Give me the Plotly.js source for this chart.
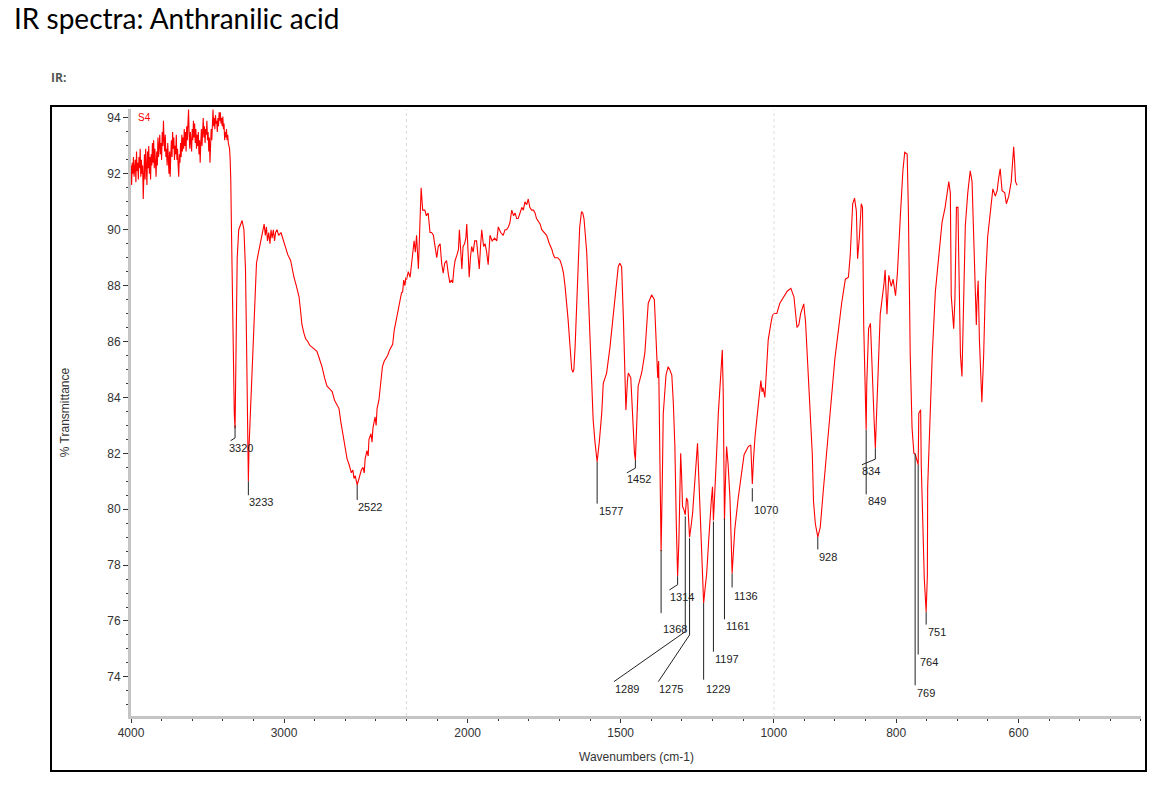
<!DOCTYPE html>
<html><head><meta charset="utf-8">
<script src="https://cdn.plot.ly/plotly-3.0.1.min.js"></script>
<style>html,body{margin:0;padding:0;background:#fff;}#chart{width:1154px;height:810px;}</style>
</head><body><div id="chart"></div>
<script>
// ---- spectrum data (wavenumber in cm-1, % transmittance) ----
const wavenumber = [
4000,3996,3992,3988,3984,3980,3976,3972,3968,3964,3960,3956,3952,3948,3944,3940,3936,3932,3928,3924,
3920,3916,3912,3908,3904,3900,3896,3892,3888,3884,3880,3876,3872,3868,3864,3860,3856,3852,3848,3844,
3840,3836,3832,3828,3824,3820,3816,3812,3808,3804,3800,3796,3792,3788,3784,3780,3776,3772,3768,3764,
3760,3756,3752,3748,3744,3740,3736,3732,3728,3724,3720,3716,3712,3708,3704,3700,3696,3692,3688,3684,
3680,3676,3672,3668,3664,3660,3656,3652,3648,3644,3640,3636,3632,3628,3624,3620,3616,3612,3608,3604,
3600,3596,3592,3588,3584,3580,3576,3572,3568,3564,3560,3556,3552,3548,3544,3540,3536,3532,3528,3524,
3520,3516,3512,3508,3504,3500,3496,3492,3488,3484,3480,3476,3472,3468,3464,3460,3456,3452,3448,3444,
3440,3436,3432,3428,3424,3420,3416,3412,3408,3404,3400,3396,3392,3388,3384,3380,3376,3372,3368,3364,
3360,3356,
3352,3348,3344,3340,3335,3330,3325,3320,3316,3312,3306,3296,3285,3274,3262,3252,3246,3241,3237,3233,
3229,3222,3212,3200,3192,3180,3170,3160,3150,3140,3130,3122,3115,3108,3100,3092,3085,3078,3070,3062,
3055,3046,3035,3020,3005,2990,2975,2957,2945,2935,2920,2902,2892,2883,2870,2859,2845,2830,2817,2800,
2785,2770,2752,2735,2719,2700,2685,2670,2655,2641,2628,2615,2600,2588,2575,2560,2550,2543,2535,2528,
2522,2515,2505,2495,2484,2476,2470,2458,2450,2445,2432,2425,2419,2405,2398,2392,2380,2372,2365,2357,
2345,2335,2323,2310,2300,2290,2280,2270,2258,2248,2240,2232,2225,2218,2210,2204,2200,
2194,2188,2182,2175,2171,2167,2161,2157,2152,2147,2140,2135,2129,2123,2118,2112,2106,2101,2096,2090,
2085,2080,2075,2069,2063,2058,2053,2049,2045,2041,2035,2030,2027,2023,2019,2015,2010,2006,2003,1999,
1995,1991,1987,1982,1977,1971,1966,1962,1958,1954,1948,1943,1938,1933,1927,1920,1912,1905,1900,1892,
1884,1878,1873,1867,1862,1856,1850,1845,1840,1835,1829,1823,1818,1813,1807,1802,1797,1791,1785,1780,
1775,1769,1763,1758,1750,1742,1733,1725,1720,1715,1706,1698,1692,1687,1682,1676,1672,1668,1664,1660,
1656,1653,1649,1646,1642,1639,1634,1628,1624,1620,1615,1611,1605,1600,1595,1590,1584,1579,1577,1570,
1562,1557,1546,1535,1519,1508,1503,1497,1491,1486,1483,1478,1475,1467,1463,1459,1455,1452,1448,1443,
1431,1421,1410,1403,1399,1390,1386,1382,1379,1376,1372,1370,1368,1364,1361,1352,1345,1340,1333,1328,
1323,1318,1314,1310,1308,1304,1301,1298,1294,1289,1285,1281,1278,1275,1270,1265,1261,1257,1253,1249,
1245,1241,1236,1232,1229,1224,1219,1213,1208,1204,1200,1197,1193,1189,1185,1181,1176,1172,1168,1165,
1163,1161,1158,1154,1149,1143,1139,1136,1131,1127,1116,1105,1097,1090,1083,1075,1072,1070,1066,1061,
1051,1046,1042,1038,1035,1029,1024,1018,1010,1005,1000,
995,990,984,978,972,967,962,959,956,951,948,944,940,937,935,932,928,924,919,913,
906,900,894,889,883,878,875,871,868,865,863,860,857,855,853,849,848,845,842,840,
836,834,831,826,820,818,815,812,808,805,801,798,793,789,786,782,780,777,774,771,
769,766,764,763,760,759,756.5,754,751,749,748.5,745,741,736,730.5,725,720,714,711.5,710,
706,704,701.5,699,698,695,692.5,689.5,687,683,679,676,673.5,670.5,669,668,666,664,661.5,660,
657,654,650.5,646,642,638,635,632.5,630,627,622.5,620,616,612,609.5,608,606.5,605,602.5
];
const transmittance = [
92.3,91.6,92.4,92.0,92.6,91.9,92.2,92.5,91.7,92.8,92.1,92.4,91.8,92.6,92.2,92.9,91.9,92.5,92.0,92.3,
91.1,92.2,92.7,91.8,92.9,92.3,91.6,92.8,92.2,93.0,92.0,92.6,91.8,92.7,92.3,93.1,92.4,93.2,92.2,92.9,
92.5,91.9,92.8,92.3,93.3,92.6,93.0,93.4,92.7,93.1,92.5,93.5,93.0,93.9,93.2,92.8,93.4,92.6,92.9,92.3,
93.1,92.4,92.0,92.8,91.9,92.7,93.2,92.6,93.5,92.9,93.3,92.5,93.0,92.7,93.4,92.5,92.9,92.3,91.9,92.7,
92.4,93.1,92.6,93.4,92.8,93.3,92.9,93.6,93.0,93.5,92.8,93.7,93.2,93.8,94.3,93.4,92.9,93.5,93.0,92.8,
93.6,93.2,93.9,93.3,93.8,93.1,93.6,92.9,93.4,93.0,93.5,92.7,93.2,92.4,93.1,93.6,93.0,93.8,94.0,93.3,
93.7,93.1,93.6,93.4,93.9,93.2,93.5,92.8,93.3,92.4,93.1,93.6,93.2,93.9,94.3,93.7,94.0,93.6,94.1,93.8,
93.9,93.5,94.0,93.7,94.2,93.9,94.2,93.8,94.0,93.7,94.05,93.6,93.8,93.2,93.5,93.3,93.6,93.2,93.4,93.1,
93.0,92.9,
92.5,91.8,90.2,88.5,86.5,84.8,83.4,82.9,84.5,86.5,89.0,90.0,90.2,90.33,90.0,88.6,86.4,84.1,82.2,81.0,
82.2,83.2,84.6,86.5,87.6,88.8,89.1,89.4,89.6,89.9,90.2,89.8,90.1,89.6,89.9,89.5,90.0,89.7,90.0,89.6,
89.9,90.0,89.8,89.9,89.6,89.4,89.1,88.9,88.5,88.3,88.0,87.6,87.1,86.6,86.3,86.1,86.0,85.85,85.8,85.7,
85.65,85.4,85.1,84.7,84.4,84.3,84.2,83.9,83.75,83.6,83.1,82.7,82.2,81.8,81.6,81.3,81.4,81.1,81.2,80.95,
80.87,81.0,81.2,81.4,81.5,81.3,81.8,82.1,81.9,82.5,82.7,82.4,82.9,83.3,83.0,83.6,83.9,84.4,84.9,85.1,
85.3,85.4,85.5,85.7,85.8,85.9,86.4,86.7,87.06,87.3,87.5,87.75,87.77,88.2,88.0,88.3,88.2,
88.5,88.3,89.0,89.6,89.2,89.8,88.6,90.0,91.5,90.7,90.7,90.5,90.6,89.9,89.9,89.8,89.3,89.0,89.4,89.5,
88.8,88.45,88.8,88.9,88.4,88.1,88.2,88.1,88.6,88.9,89.1,89.3,90.0,89.2,88.6,89.4,89.5,89.7,90.2,89.3,
88.3,89.0,89.4,89.2,89.6,89.6,89.0,88.6,89.4,90.0,89.4,89.5,89.2,88.75,89.8,89.6,89.7,89.6,90.1,89.9,
89.8,90.0,90.0,90.1,90.25,90.7,90.5,90.6,90.4,90.4,90.6,90.8,90.7,91.0,90.9,91.1,90.8,90.7,90.7,90.6,
90.4,90.3,90.2,90.0,89.9,89.8,89.5,89.3,89.1,89.0,89.0,88.9,88.7,88.45,88.0,87.4,86.8,86.2,85.5,85.0,
84.9,85.0,85.8,86.8,88.2,89.2,90.1,90.65,90.6,90.4,89.8,89.2,87.5,85.8,84.5,83.2,82.4,81.9,81.7,82.4,
83.43,84.5,84.87,85.8,87.6,88.68,88.8,88.68,86.77,84.15,83.55,84.6,84.87,84.7,83.8,82.6,82.0,81.76,82.8,84.4,
84.9,85.6,87.37,87.6,87.67,87.5,86.5,85.46,84.7,85.3,82.24,80.0,78.5,81.0,83.4,84.8,85.1,85.0,84.8,83.8,
82.24,79.3,77.6,78.8,80.1,82.0,81.2,80.1,80.0,79.8,80.4,80.3,79.6,79.0,79.4,79.86,80.5,81.05,81.8,82.36,
81.2,79.86,78.5,77.47,76.64,77.2,77.7,78.8,79.86,80.3,80.8,79.6,80.5,81.3,82.4,83.43,84.4,85.2,85.7,84.2,
82.0,79.6,80.9,82.24,81.6,80.4,78.9,77.7,78.6,79.3,80.4,81.3,81.94,82.1,82.24,82.3,81.6,80.9,81.8,82.6,
83.67,84.2,84.6,84.2,84.35,84.0,85.0,86.06,86.6,86.9,87.0,
87.0,87.37,87.6,87.8,87.9,87.6,86.5,86.6,87.0,87.35,86.7,85.14,83.17,81.98,80.27,79.48,79.0,79.35,80.67,82.25,
83.96,85.4,86.46,87.38,88.23,88.3,89.09,90.93,91.13,90.67,88.96,89.75,90.93,90.8,86.59,82.84,84.48,86.46,86.65,85.27,
83.17,82.18,84.2,86.98,88.04,88.56,86.98,88.37,87.97,88.23,87.64,88.43,90.54,92.11,92.77,92.71,90.67,85.54,82.9,82.0,
81.98,81.7,81.59,83.43,83.56,81.59,78.96,77.5,76.33,77.64,80.8,83.3,85.54,87.77,89.09,90.27,90.8,91.72,91.32,87.64,
86.46,87.51,90.8,90.8,89.35,85.54,84.75,87.51,90.14,91.32,92.11,91.72,90.14,88.17,86.59,87.38,88.17,86.06,84.35,83.83,
85.54,88.17,89.75,90.8,91.46,91.2,91.4,91.85,92.18,91.4,91.32,90.93,91.2,91.72,92.38,92.97,92.44,91.72,91.59
];

// ---- peak picks ----
const peakLabels = ['3320','3233','2522','1577','1452','1368','1314','1289','1275','1229','1197','1161','1136','1070','928','849','834','769','764','751'];
const peakWn     = [3320,3233,2522,1577,1452,1368,1314,1289,1275,1229,1197,1161,1136,1070,928,849,834,769,764,751];
const peakTop    = [83.0,81.0,80.87,81.7,81.76,78.54,77.6,79.74,78.96,76.64,79.56,79.67,77.7,80.75,79.0,82.84,82.18,81.98,81.59,76.33];
const peakBottom = [82.55,80.5,80.33,80.2,81.47,76.28,77.3,75.62,75.5,73.9,74.9,76.06,77.2,80.27,78.56,80.53,81.79,73.7,74.8,75.87];
const bendWn     = [3349,null,null,null,1480,null,1341,1522,1377,null,null,null,null,null,null,null,856,null,null,null];
const bendT      = [82.45,null,null,null,81.3,null,77.11,73.83,73.83,null,null,null,null,null,null,null,81.59,null,null,null];
const textWn     = [3363,3236,2523,1575,1483,1366,1341,1522,1378,1226,1196,1160,1134,1069,927,848,858,768,763,750];
const textT      = [82.2,80.27,80.07,79.94,81.07,75.7,76.85,73.56,73.56,73.56,74.64,75.82,76.9,79.97,78.3,80.3,81.35,73.43,74.52,75.6];

// ---- axis segments (wavenumber scale changes at 2200 and 1000) ----
const segHigh = [4000, 2200, 1000];
const segLow  = [2200, 1000, 400];
const segTicks = [[4000, 3000], [2000, 1500], [1000, 800, 600]];
const segMinor = [200, 100, 50];
const segWeight = [1, 2, 4];

const spans = segHigh.map((h, i) => (h - segLow[i]) * segWeight[i]);
const total = spans.reduce((a, b) => a + b, 0);
const domains = [];
let acc = 0;
spans.forEach(s => { domains.push([acc / total, (acc + s) / total]); acc += s; });
const axName = i => i === 0 ? 'x' : 'x' + (i + 1);
function segOf(w) { return w > 2200 ? 0 : (w > 1000 ? 1 : 2); }

const traces = segHigh.map((h, i) => {
  const xs = [], ys = [];
  wavenumber.forEach((w, k) => {
    if (w <= h && w >= segLow[i]) { xs.push(w); ys.push(transmittance[k]); }
  });
  return { x: xs, y: ys, type: 'scatter', mode: 'lines', xaxis: axName(i), yaxis: 'y',
           line: { color: '#ff0000', width: 1.1 }, hoverinfo: 'skip', showlegend: false };
});

const tickFont = { family: 'Arial, "Liberation Sans", sans-serif', size: 12, color: '#333' };
const layout = {
  width: 1154, height: 810,
  margin: { l: 131, r: 13, t: 109, b: 94 },
  paper_bgcolor: '#ffffff', plot_bgcolor: '#ffffff',
  showlegend: false,
  title: { text: 'IR spectra: Anthranilic acid', x: 14 / 1154, xanchor: 'left', xref: 'container',
           y: 1 - 19 / 810, yanchor: 'middle', yref: 'container',
           font: { family: 'Lato, "Open Sans", sans-serif', size: 28, color: '#000' } },
  yaxis: {
    range: [72.6, 94.32], dtick: 2, tick0: 0, showline: true, linecolor: '#c4c4c4', linewidth: 3,
    ticks: 'outside', ticklen: 5, tickcolor: '#333', tickwidth: 1, showgrid: false, zeroline: false,
    tickfont: tickFont, fixedrange: true,
    minor: { dtick: 0.5, tick0: 0, ticks: 'outside', ticklen: 2, tickcolor: '#333', showgrid: false },
    title: { text: '% Transmittance', standoff: 36, font: tickFont }
  },
  shapes: [], annotations: []
};
segHigh.forEach((h, i) => {
  layout[i === 0 ? 'xaxis' : 'xaxis' + (i + 1)] = {
    range: [h, segLow[i]], domain: domains[i], anchor: 'y',
    tickmode: 'array', tickvals: segTicks[i],
    showline: true, linecolor: '#c4c4c4', linewidth: 3,
    ticks: 'outside', ticklen: 4, tickcolor: '#333', tickwidth: 1,
    showgrid: false, zeroline: false, tickfont: tickFont, fixedrange: true,
    minor: { tickmode: 'linear', dtick: segMinor[i], tick0: 0, ticks: 'outside', ticklen: 2, tickcolor: '#333', showgrid: false }
  };
});

// outer frame
layout.shapes.push({ type: 'rect', xref: 'paper', yref: 'paper', x0: -0.0792, x1: 1.00495, y0: -0.0906, y1: 1.00494,
                     line: { color: '#000', width: 2 }, fillcolor: 'rgba(0,0,0,0)' });
// scale-change markers
[[0, 2200], [2, 1000]].forEach(([i, w]) => {
  layout.shapes.push({ type: 'line', xref: axName(i), yref: 'paper', x0: w, x1: w, y0: 0, y1: 1,
                       line: { color: '#b0b0b0', width: 1, dash: '3px,3px' } });
});
// peak pick lines and labels
peakWn.forEach((w, k) => {
  const ax = axName(segOf(w));
  layout.shapes.push({ type: 'line', xref: ax, yref: 'y', x0: w, x1: w, y0: peakTop[k], y1: peakBottom[k],
                       line: { color: '#222', width: 1 } });
  if (bendWn[k] !== null) {
    layout.shapes.push({ type: 'line', xref: ax, yref: 'y', x0: w, x1: bendWn[k], y0: peakBottom[k], y1: bendT[k],
                         line: { color: '#222', width: 1 } });
  }
  layout.annotations.push({ xref: ax, yref: 'y', x: textWn[k], y: textT[k], text: peakLabels[k], showarrow: false,
                            xanchor: 'left', yanchor: 'middle', borderpad: 0,
                            font: { family: 'Arial, "Liberation Sans", sans-serif', size: 11, color: '#222' } });
});
layout.annotations.push({ xref: 'paper', yref: 'y', x: 0.005, y: 94, text: 'S4', showarrow: false,
                          xanchor: 'left', yanchor: 'middle', font: { family: 'Arial, "Liberation Sans", sans-serif', size: 10, color: '#ff0000' } });
layout.annotations.push({ xref: 'paper', yref: 'paper', x: -0.0815, y: 1.0527, text: '<b>IR:</b>', showarrow: false,
                          xanchor: 'left', yanchor: 'middle', font: { family: '"Open Sans", Arial, sans-serif', size: 12, color: '#555' } });
layout.annotations.push({ xref: 'paper', yref: 'paper', x: 0.5, y: -0.0675, text: 'Wavenumbers (cm-1)', showarrow: false,
                          xanchor: 'center', yanchor: 'middle', font: tickFont });

Plotly.newPlot('chart', traces, layout, { displayModeBar: false, staticPlot: true });
</script></body></html>
